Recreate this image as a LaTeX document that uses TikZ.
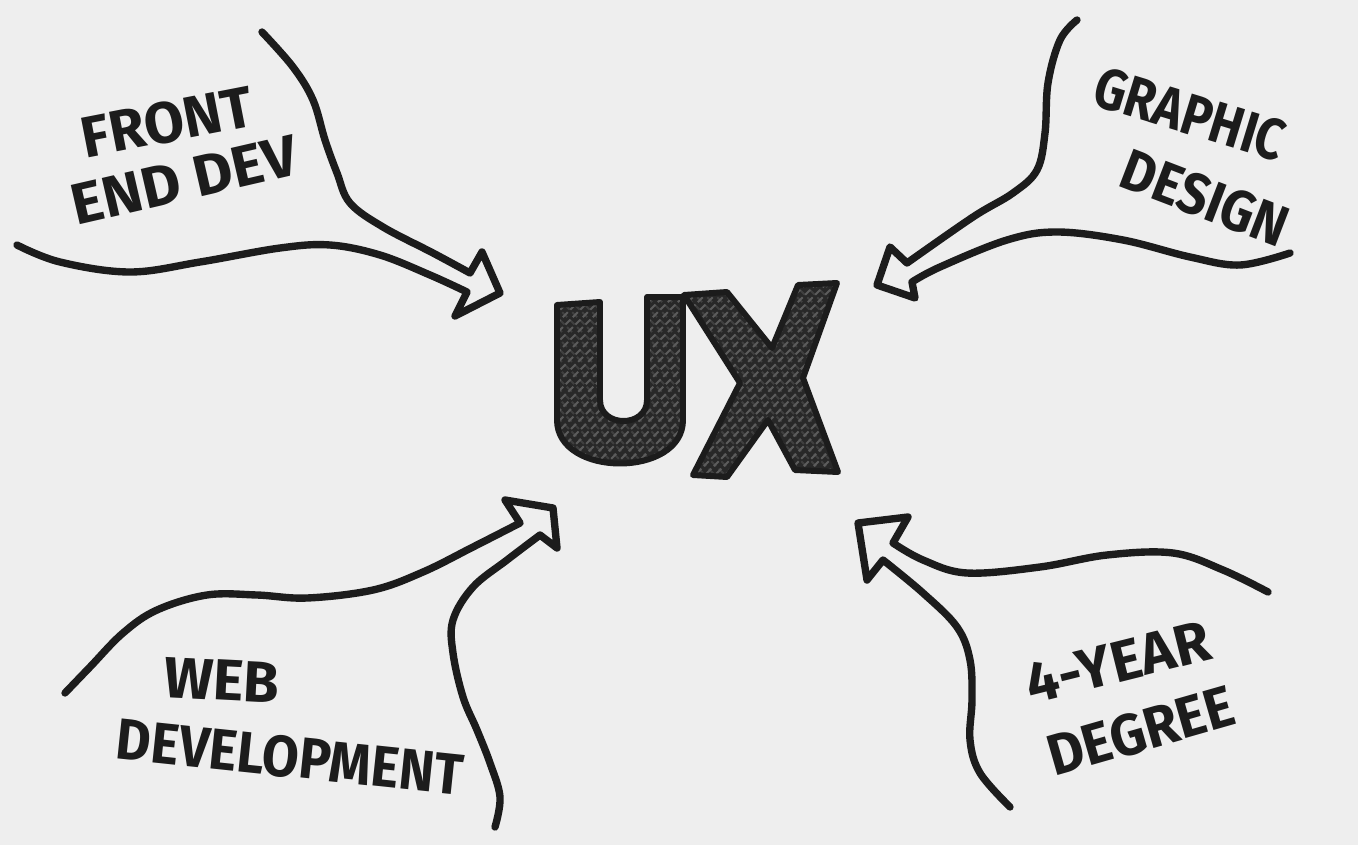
\documentclass[tikz,border=0pt]{standalone}
\usepackage{fontspec}
\usepackage{graphicx}
\setmainfont{Fira Sans}
\definecolor{paper}{RGB}{238,238,238}
\definecolor{ink}{RGB}{28,28,28}
\definecolor{letterfill}{RGB}{40,40,40}
\definecolor{hatch}{RGB}{92,92,92}
\tikzset{
  marker/.style={draw=ink, line width=4.2pt, line cap=round, line join=round},
  hand/.style={text=ink, font=\bfseries\fontsize{33}{35}\selectfont, inner sep=0pt},
  letteredge/.style={draw=ink, line width=3.4pt, line join=round},
  hatchline/.style={draw=hatch, line width=1.1pt, dash pattern=on 4pt off 2pt}
}
\def\upathshape{(557,305) -- (600,302) -- (600,400)
  .. controls (600,428) and (647,428) .. (647,400)
  -- (647,297) -- (683,297) -- (683,420)
  .. controls (683,478) and (557,478) .. (557,420) -- cycle}
\def\xpathshape{(684,295) -- (727,292) -- (772,348) -- (798,285) -- (837,283)
  -- (803,378) -- (838,472) -- (795,470) -- (768,420) -- (727,477)
  -- (693,475) -- (740,383) -- cycle}
\begin{document}
\begin{tikzpicture}[x=0.02cm, y=-0.02cm]
\fill[paper] (0,0) rectangle (1358,845);
\useasboundingbox (0,0) rectangle (1358,845);

% ---------- UX ----------
\fill[letterfill] \upathshape;
\fill[letterfill] \xpathshape;
\begin{scope}
  \clip \upathshape;
  \foreach \i in {-360,-350,...,360}
    \draw[hatchline] (840+\i,260) -- ++(-280,280);
  \foreach \i in {-360,-350,...,360}
    \draw[hatchline, draw opacity=0.45] (560+\i,260) -- ++(280,280);
\end{scope}
\begin{scope}
  \clip \xpathshape;
  \foreach \i in {-360,-350,...,360}
    \draw[hatchline] (840+\i,260) -- ++(-280,280);
  \foreach \i in {-360,-350,...,360}
    \draw[hatchline, draw opacity=0.45] (680+\i,260) -- ++(280,280);
\end{scope}
\draw[letteredge] \upathshape;
\draw[letteredge] \xpathshape;
\node[inner sep=0pt] (ux) at (697,382) {};

% ---------- Front end dev ----------
\draw[marker] plot[smooth, tension=0.6] coordinates {(262,32) (293,67) (313,100) (325,140) (337,173) (350,203) (383,227) (433,253) (470,273)}
  -- (482,252) -- (500,293) -- (455,316) -- (467,292)
  -- plot[smooth, tension=0.6] coordinates {(467,292) (430,275) (380,255) (330,245) (280,248) (200,262) (130,272) (60,262) (17,245)};
\node[hand, rotate=11] (front) at (167,122) {FRONT};
\node[hand, rotate=13] (enddev) at (184,180) {\scalebox{1.04}[1]{END DEV}};

% ---------- Graphic design ----------
\draw[marker] plot[smooth, tension=0.6] coordinates {(1077,20) (1060,40) (1048,83) (1045,133) (1037,170) (1013,193) (973,217) (907,263)}
  -- (890,247) -- (877,285) -- (915,298) -- (912,282)
  -- plot[smooth, tension=0.6] coordinates {(912,282) (940,267) (1007,240) (1057,232) (1123,240) (1190,257) (1240,265) (1290,253)};
\node[hand, rotate=-17] (graphic) at (1190,114) {\scalebox{0.85}[1]{GRAPHIC}};
\node[hand, rotate=-21] (design) at (1205,198) {\scalebox{0.9}[1]{DESIGN}};

% ---------- Web development ----------
\draw[marker] plot[smooth, tension=0.6] coordinates {(65,693) (90,667) (123,633) (157,610) (207,595) (257,595) (307,598) (373,590) (423,572) (473,547) (520,523)}
  -- (505,500) -- (553,508) -- (557,548) -- (540,535)
  -- plot[smooth, tension=0.6] coordinates {(540,535) (507,560) (473,587) (453,620) (453,653) (463,697) (477,730) (490,763) (500,797) (495,827)};
\node[hand, rotate=-3] (web) at (222,680) {WEB};
\node[hand, rotate=-6] (webdev) at (290,757) {\scalebox{0.92}[1]{DEVELOPMENT}};

% ---------- 4-year degree ----------
\draw[marker] plot[smooth, tension=0.6] coordinates {(1268,592) (1223,570) (1173,553) (1107,555) (1040,567) (967,573) (923,560) (893,543)}
  -- (908,517) -- (858,523) -- (867,580) -- (883,560)
  -- plot[smooth, tension=0.6] coordinates {(883,560) (923,593) (957,627) (970,660) (972,700) (970,740) (980,773) (1010,807)};
\node[hand, rotate=14] (year) at (1118,662) {4-YEAR};
\node[hand, rotate=16] (degree) at (1141,731) {\scalebox{0.95}[1]{DEGREE}};
\end{tikzpicture}
\end{document}
